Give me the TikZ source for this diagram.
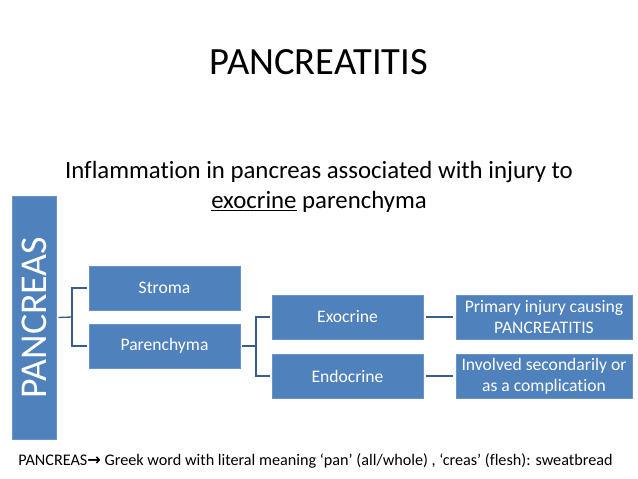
\documentclass[tikz,border=0pt]{standalone}
\usepackage{fontspec}
\setmainfont{Carlito}[Ligatures=NoCommon]
\newfontfamily\arrowfont{DejaVu Sans}
\usetikzlibrary{calc}

\definecolor{boxblue}{RGB}{79,129,189}
\definecolor{linkblue}{RGB}{56,93,138}

\tikzset{
  boite/.style={draw=boxblue!85!white, fill=boxblue, text=white, inner sep=0pt,
    align=center, font=\fontsize{13.2}{15.5}\selectfont},
  lien/.style={draw=linkblue, line width=1pt},
}

\begin{document}
\begin{tikzpicture}[x=0.75pt,y=-0.75pt]

\useasboundingbox[fill=white] (0,0) rectangle (638,478);

% titres
\node (titre) at (319,62) {\fontsize{28.9}{32}\selectfont PANCREATITIS};
\node[align=center, font=\fontsize{18.6}{22.5}\selectfont] (soustitre) at (319,187)
  {Inflammation in pancreas associated with injury to\\
   \underline{exocrine} parenchyma};

% bloc vertical
\node[boite, minimum width=33pt, minimum height=182pt] (pancreas) at (34,317.5) {};
\node[rotate=90, text=white] (pancreasTxt) at (pancreas.center)
  {\fontsize{28.4}{32}\selectfont PANCREAS};

% niveau 1
\def \LargeurA {113pt}
\def \Hauteur {33pt}
\node[boite, minimum width=\LargeurA, minimum height=\Hauteur] (stroma) at (164.5,288) {Stroma};
\node[boite, minimum width=\LargeurA, minimum height=\Hauteur] (parenchyme) at (164.5,346) {Parenchyma};

% niveau 2
\node[boite, minimum width=\LargeurA, minimum height=\Hauteur] (exocrine) at (347.5,317) {Exocrine};
\node[boite, minimum width=\LargeurA, minimum height=\Hauteur] (endocrine) at (347.5,376) {Endocrine};

% niveau 3
\def \LargeurB {132pt}
\node[boite, minimum width=\LargeurB, minimum height=\Hauteur] (primaire) at (544,317)
  {Primary injury causing\\PANCREATITIS};
\node[boite, minimum width=\LargeurB, minimum height=\Hauteur] (secondaire) at (544,376)
  {Involved secondarily or\\as a complication};

% liens
\coordinate (nA) at (72,317);
\coordinate (nB) at (256,346);
\draw[lien] ($(pancreas.east)+(1.5pt,0)$) -- (nA);
\draw[lien] (stroma.west) ++(-1.5pt,0) -| (nA) |- ($(parenchyme.west)+(-1.5pt,0)$);
\draw[lien] ($(parenchyme.east)+(1.5pt,0)$) -- (nB);
\draw[lien] (exocrine.west) ++(-1.5pt,0) -| (nB) |- ($(endocrine.west)+(-1.5pt,0)$);
\draw[lien] ($(exocrine.east)+(2pt,0)$) -- ($(primaire.west)+(-2pt,0)$);
\draw[lien] ($(endocrine.east)+(2pt,0)$) -- ($(secondaire.west)+(-2pt,0)$);

% note du bas
\node (note) at (315.5,461) {\fontsize{12.15}{14}\selectfont
  PANCREAS{\arrowfont\textbf{→}} Greek word with literal meaning ‘pan’ (all/whole) , ‘creas’ (flesh): sweatbread};

\end{tikzpicture}
\end{document}
